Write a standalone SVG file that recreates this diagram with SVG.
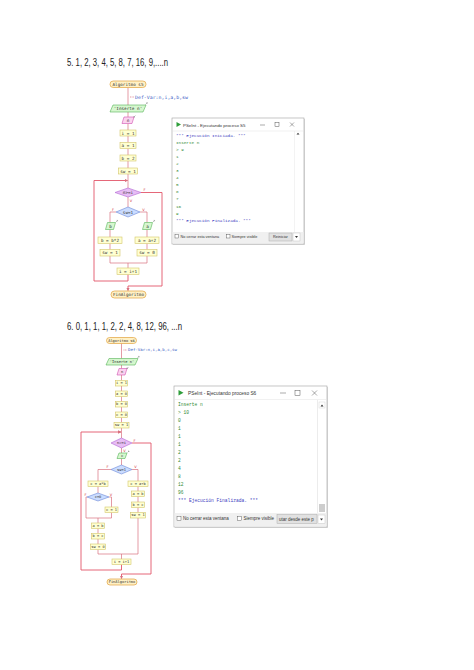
<svg xmlns="http://www.w3.org/2000/svg" width="474" height="670" viewBox="0 0 474 670">
<style>
.hd{font-family:"Liberation Sans","Open Sans",sans-serif;font-size:10px;fill:#222}
.t{font-family:"DejaVu Sans Mono",monospace;font-size:4.3px;fill:#333;text-anchor:middle;dominant-baseline:central}
.t2{font-family:"DejaVu Sans Mono",monospace;font-size:3.7px;fill:#333;text-anchor:middle;dominant-baseline:central}
.note{font-family:"DejaVu Sans Mono",monospace;fill:#3b5cc4}
.box{fill:#ffffd2;stroke:#d3c56a;stroke-width:0.6}
.st{fill:#fff1c6;stroke:#e1a23e;stroke-width:0.7}
.out{fill:#d6f7cf;stroke:#56b458;stroke-width:0.6}
.inp{fill:#fbd2ef;stroke:#d052b0;stroke-width:0.6}
.dw{fill:#e7bdf5;stroke:#b064d2;stroke-width:0.6}
.di{fill:#cadcff;stroke:#6a86d6;stroke-width:0.6}
.ln{fill:none;stroke:#d8707e;stroke-width:0.7}
.lp{fill:none;stroke:#e2566a;stroke-width:0.9}
.lb{font-family:"DejaVu Sans",sans-serif;font-size:3.6px;fill:#d23a3a;text-anchor:middle}
.mk{fill:none;stroke:#666;stroke-width:0.4}
.win{fill:#fff;stroke:#a0a0a0;stroke-width:0.6}
.wt{font-family:"Liberation Sans",sans-serif;fill:#333}
.mono{font-family:"Liberation Mono","DejaVu Sans Mono",monospace}
.g{fill:#2f8a35}
.b{fill:#4040c0}
.bar{fill:#f0f0f0}
.cb{fill:#fff;stroke:#444;stroke-width:0.4}
.btn{fill:#e1e1e1;stroke:#adadad;stroke-width:0.5}
.ctl{fill:none;stroke:#444;stroke-width:0.45}
</style>
<defs>
<marker id="ah" viewBox="0 0 6 6" refX="5" refY="3" markerWidth="4" markerHeight="4" orient="auto"><path d="M0,0L6,3L0,6z" fill="#d8707e"/></marker>
</defs>
<rect width="474" height="670" fill="#fff"/>

<text class="hd" x="67" y="66" textLength="101" lengthAdjust="spacingAndGlyphs">5. 1, 2, 3, 4, 5, 8, 7, 16, 9,....n</text>
<text class="hd" x="67" y="329.5" textLength="115" lengthAdjust="spacingAndGlyphs">6. 0, 1, 1, 1, 2, 2, 4, 8, 12, 96, ...n</text>

<!-- connectors -->
<g id="connectors">
<path class="ln" d="M128,87.5V105M128,112V117M128,123.5V130M128,136V142.5M128,148.5V155M128,161V168M128,174V188M128,197V207"/>
<path class="ln" d="M130,97H134" stroke-dasharray="1,0.6"/>
<path class="ln" d="M116,212H110V222.5M140,212H147V222.5M110,229.5V237M147,229.5V237M110,243.5V249.5M147,243.5V249.5"/>
<path class="ln" d="M110,256V263H147V256M128,263V268"/>
<path class="lp" d="M128,274.5V281H94V180.5H127.5" marker-end="url(#ah)"/>
<path class="lp" d="M141,192.5H162V286H128V290.5" marker-end="url(#ah)"/>
<path class="ln" d="M121.5,343.5V358.5M121.5,365V368.5M121.5,375V380.5M121.5,386V391M121.5,396.5V401.5M121.5,407V412M121.5,417.5V422.5M121.5,428V438M121.5,448V453M121.5,458.5V465"/>
<path class="ln" d="M123.5,350H127" stroke-dasharray="1,0.6"/>
<path class="ln" d="M111,469.5H98V481M132,469.5H138V481M98,486.5V493"/>
<path class="ln" d="M87,497H86V518H111.5V512.5M109,497H111.5V507M98,518V523M98,528.5V533.5M98,539V544M98,549.5V554"/>
<path class="ln" d="M138,486.5V491M138,496.5V502M138,507.5V512.5M138,518V554H98M121.5,554V559"/>
<path class="lp" d="M121.5,564.5V570H81V432H121" marker-end="url(#ah)"/>
<path class="lp" d="M132,443H151V574H121.5V578.5" marker-end="url(#ah)"/>
<text class="lb" x="144.5" y="191">F</text>
<text class="lb" x="131" y="202">V</text>
<text class="lb" x="113" y="210.5">F</text>
<text class="lb" x="143.5" y="210.5">V</text>
<text class="lb" x="134.5" y="441.5">F</text>
<text class="lb" x="124.5" y="452">V</text>
<text class="lb" x="107.5" y="468">F</text>
<text class="lb" x="135.5" y="468">V</text>
<text class="lb" x="85.5" y="495.5">F</text>
<text class="lb" x="111" y="495.5">V</text>
</g>

<!-- flowchart 1 nodes -->
<g id="f1-start"><rect class="st" x="110" y="81" width="36" height="6.5" rx="3.2"/><text class="t" x="128" y="84.3">Algoritmo s5</text></g>
<g id="f1-def"><text class="note" x="135" y="98.5" font-size="4.5" textLength="53" lengthAdjust="spacingAndGlyphs">Def-Var:n,i,a,b,sw</text></g>
<g id="f1-out"><polygon class="out" points="110,112 113,105 146,105 143,112"/><text class="t" x="128" y="108.6">'Inserte n'</text><path class="mk" d="M145.5,104.5l1.8,-1.8m-1,0h1v1"/></g>
<g id="f1-in"><polygon class="inp" points="122,123.5 124,117 134,117 132,123.5"/><text class="t" x="128" y="120.3">n</text><path class="mk" d="M135.5,115.5l-1.6,1.6m0,-1v1h1"/></g>
<g id="f1-i"><rect class="box" x="120" y="130" width="16" height="6"/><text class="t" x="128" y="133.1">i = 1</text></g>
<g id="f1-a"><rect class="box" x="120" y="142.5" width="16" height="6"/><text class="t" x="128" y="145.6">a = 1</text></g>
<g id="f1-b"><rect class="box" x="120" y="155" width="16" height="6"/><text class="t" x="128" y="158.1">b = 2</text></g>
<g id="f1-sw"><rect class="box" x="118.5" y="168" width="19" height="6"/><text class="t" x="128" y="171.1">sw = 1</text></g>
<g id="f1-while"><polygon class="dw" points="128,188 141,192.5 128,197 115,192.5"/><text class="t" x="128" y="192.6">n&gt;=i</text></g>
<g id="f1-if"><polygon class="di" points="128,207 140,212 128,217 116,212"/><text class="t" x="128" y="212.1">sw=1</text></g>
<g id="f1-outb"><polygon class="out" points="105.5,229.5 107.5,222.5 115.5,222.5 113.5,229.5"/><text class="t" x="110.5" y="226.1">b</text><path class="mk" d="M116,222l1.6,-1.6m-1,0h1v1"/></g>
<g id="f1-outa"><polygon class="out" points="142.5,229.5 144.5,222.5 152.5,222.5 150.5,229.5"/><text class="t" x="147.5" y="226.1">a</text><path class="mk" d="M153,222l1.6,-1.6m-1,0h1v1"/></g>
<g id="f1-bb"><rect class="box" x="98" y="237" width="24" height="6.5"/><text class="t" x="110" y="240.3">b = b*2</text></g>
<g id="f1-aa"><rect class="box" x="135" y="237" width="24" height="6.5"/><text class="t" x="147" y="240.3">a = a+2</text></g>
<g id="f1-sw1"><rect class="box" x="100" y="249.5" width="20" height="6.5"/><text class="t" x="110" y="252.8">sw = 1</text></g>
<g id="f1-sw0"><rect class="box" x="137" y="249.5" width="20" height="6.5"/><text class="t" x="147" y="252.8">sw = 0</text></g>
<g id="f1-inc"><rect class="box" x="117" y="268" width="22" height="6.5"/><text class="t" x="128" y="271.3">i = i+1</text></g>
<g id="f1-end"><rect class="st" x="111" y="291" width="35" height="7" rx="3.5"/><text class="t" x="128.5" y="294.6">FinAlgoritmo</text></g>

<!-- flowchart 2 nodes -->
<g id="f2-start"><rect class="st" x="106.5" y="337.5" width="30" height="6" rx="3"/><text class="t2" x="121.5" y="340.6">Algoritmo s6</text></g>
<g id="f2-def"><text class="note" x="128" y="351.3" font-size="3.9" textLength="49" lengthAdjust="spacingAndGlyphs">Def-Var:n,i,a,b,c,sw</text></g>
<g id="f2-out"><polygon class="out" points="106,365 109,358.5 138,358.5 135,365"/><text class="t2" x="122" y="361.8">'Inserte n'</text><path class="mk" d="M137.5,358l1.6,-1.6m-1,0h1v1"/></g>
<g id="f2-in"><polygon class="inp" points="117,375 119,368.5 127,368.5 125,375"/><text class="t2" x="122" y="371.8">n</text><path class="mk" d="M128.5,367l-1.5,1.5m0,-1v1h1"/></g>
<g id="f2-i"><rect class="box" x="115.5" y="380.5" width="12" height="5.5"/><text class="t2" x="121.5" y="383.3">i = 1</text></g>
<g id="f2-a"><rect class="box" x="115.5" y="391" width="12" height="5.5"/><text class="t2" x="121.5" y="393.8">a = 0</text></g>
<g id="f2-b"><rect class="box" x="115.5" y="401.5" width="12" height="5.5"/><text class="t2" x="121.5" y="404.3">b = 0</text></g>
<g id="f2-c"><rect class="box" x="115.5" y="412" width="12" height="5.5"/><text class="t2" x="121.5" y="414.8">c = 0</text></g>
<g id="f2-sw"><rect class="box" x="114" y="422.5" width="15" height="5.5"/><text class="t2" x="121.5" y="425.3">sw = 1</text></g>
<g id="f2-while"><polygon class="dw" points="121.5,438 132,443 121.5,448 111,443"/><text class="t2" x="121.5" y="443.1">n&gt;=i</text></g>
<g id="f2-outc"><polygon class="out" points="117,458.5 119,453 127,453 125,458.5"/><text class="t2" x="122" y="455.8">c</text><path class="mk" d="M127.5,452.5l1.5,-1.5m-1,0h1v1"/></g>
<g id="f2-if"><polygon class="di" points="121.5,465 132,469.5 121.5,474 111,469.5"/><text class="t2" x="121.5" y="469.6">sw=1</text></g>
<g id="f2-cm"><rect class="box" x="88" y="481" width="20" height="5.5"/><text class="t2" x="98" y="483.8">c = a*b</text></g>
<g id="f2-cs"><rect class="box" x="128" y="481" width="20" height="5.5"/><text class="t2" x="138" y="483.8">c = a+b</text></g>
<g id="f2-if2"><polygon class="di" points="98,493 109,497 98,501 87,497"/><text class="t2" x="98" y="497.1">c=0</text></g>
<g id="f2-c1"><rect class="box" x="105" y="507" width="13" height="5.5"/><text class="t2" x="111.5" y="509.8">c = 1</text></g>
<g id="f2-ab1"><rect class="box" x="91.5" y="523" width="13" height="5.5"/><text class="t2" x="98" y="525.8">a = b</text></g>
<g id="f2-bc1"><rect class="box" x="91.5" y="533.5" width="13" height="5.5"/><text class="t2" x="98" y="536.3">b = c</text></g>
<g id="f2-sw0"><rect class="box" x="90.5" y="544" width="15" height="5.5"/><text class="t2" x="98" y="546.8">sw = 0</text></g>
<g id="f2-ab2"><rect class="box" x="131.5" y="491" width="13" height="5.5"/><text class="t2" x="138" y="493.8">a = b</text></g>
<g id="f2-bc2"><rect class="box" x="131.5" y="502" width="13" height="5.5"/><text class="t2" x="138" y="504.8">b = c</text></g>
<g id="f2-sw1"><rect class="box" x="130.5" y="512.5" width="15" height="5.5"/><text class="t2" x="138" y="515.3">sw = 1</text></g>
<g id="f2-inc"><rect class="box" x="112" y="559" width="19" height="5.5"/><text class="t2" x="121.5" y="561.8">i = i+1</text></g>
<g id="f2-end"><rect class="st" x="107" y="579" width="30" height="6" rx="3"/><text class="t2" x="122" y="582.1">FinAlgoritmo</text></g>

<!-- window 1 -->
<g id="win1">
<rect x="173" y="119" width="132" height="126" fill="#ddd"/>
<rect class="win" x="172" y="118" width="132" height="126"/>
<path d="M176.5,122v5l4.5,-2.5z" fill="#2e9e3a"/>
<text class="wt" x="183" y="126.6" font-size="4.4">PSeInt - Ejecutando proceso S5</text>
<path class="ctl" d="M260,125h5"/>
<rect class="ctl" x="275" y="122.5" width="4" height="4"/>
<path class="ctl" d="M290,122.5l4,4m0,-4l-4,4"/>
<path d="M172.5,131H303.5" stroke="#e3e3e3" stroke-width="0.5"/>
<path d="M294.5,131V232" stroke="#e6e6e6" stroke-width="0.5"/>
<path d="M296.5,134.5l1.5,-1.8l1.5,1.8z" fill="#333"/>
<g class="mono" font-size="4.3">
<text class="b" x="176" y="136.5">*** Ejecución Iniciada. ***</text>
<text class="g" x="176" y="143.6">Inserte n</text>
<text class="g" x="176" y="150.7">&gt; 9</text>
<text class="g" x="176" y="157.8">1</text>
<text class="g" x="176" y="164.9">2</text>
<text class="g" x="176" y="172">3</text>
<text class="g" x="176" y="179.1">4</text>
<text class="g" x="176" y="186.2">5</text>
<text class="g" x="176" y="193.3">8</text>
<text class="g" x="176" y="200.4">7</text>
<text class="g" x="176" y="207.5">16</text>
<text class="g" x="176" y="214.6">9</text>
<text class="b" x="176" y="221.7">*** Ejecución Finalizada. ***</text>
</g>
<rect class="bar" x="172.5" y="232" width="131" height="11.5"/>
<rect class="cb" x="175" y="234.5" width="3.5" height="3.5"/>
<text class="wt" x="180.5" y="237.9" font-size="3.8">No cerrar esta ventana</text>
<rect class="cb" x="226.5" y="234.5" width="3.5" height="3.5"/>
<text class="wt" x="231.5" y="237.9" font-size="3.8">Siempre visible</text>
<rect class="btn" x="269" y="233" width="23" height="8"/>
<text class="wt" x="280.5" y="238.4" font-size="3.8" text-anchor="middle">Reiniciar</text>
<rect x="293" y="233" width="7" height="8" fill="#fff" stroke="#bbb" stroke-width="0.4"/>
<path d="M295,236l1.5,2l1.5,-2z" fill="#333"/>
</g>

<!-- window 2 -->
<g id="win2">
<rect x="175" y="387" width="153" height="141" fill="#ddd"/>
<rect class="win" x="174" y="386" width="153" height="141"/>
<path d="M178.5,390v5.5l5,-2.75z" fill="#2e9e3a"/>
<text class="wt" x="188" y="395.2" font-size="4.8">PSeInt - Ejecutando proceso S6</text>
<path class="ctl" d="M280,393h6"/>
<rect class="ctl" x="295" y="390.5" width="5" height="5"/>
<path class="ctl" d="M312,390.5l5,5m0,-5l-5,5"/>
<path d="M174.5,399.5H326.5" stroke="#e3e3e3" stroke-width="0.5"/>
<path d="M317.5,400V513" stroke="#d8d8d8" stroke-width="0.5"/>
<rect x="319" y="402" width="6" height="6" fill="#fff" stroke="#ccc" stroke-width="0.4"/>
<path d="M320.5,406.5l1.5,-2l1.5,2z" fill="#333"/>
<rect x="319" y="504" width="6" height="8" fill="#cdcdcd"/>
<g class="mono" font-size="4.6">
<text class="g" x="178" y="405.7">Inserte n</text>
<text class="g" x="178" y="413.7">&gt; 10</text>
<text class="g" x="178" y="421.7">0</text>
<text class="g" x="178" y="429.7">1</text>
<text class="g" x="178" y="437.7">1</text>
<text class="g" x="178" y="445.7">1</text>
<text class="g" x="178" y="453.7">2</text>
<text class="g" x="178" y="461.7">2</text>
<text class="g" x="178" y="469.7">4</text>
<text class="g" x="178" y="477.7">8</text>
<text class="g" x="178" y="485.7">12</text>
<text class="g" x="178" y="493.7">96</text>
<text class="b" x="178" y="501.7">*** Ejecución Finalizada. ***</text>
</g>
<rect class="bar" x="174.5" y="513" width="152" height="13.5"/>
<rect class="cb" x="177" y="516.5" width="4" height="4"/>
<text class="wt" x="183" y="520.4" font-size="4.5">No cerrar esta ventana</text>
<rect class="cb" x="237.5" y="516.5" width="4" height="4"/>
<text class="wt" x="243.5" y="520.4" font-size="4.5">Siempre visible</text>
<rect class="btn" x="277" y="514.5" width="40" height="9"/>
<text class="wt" x="279" y="520.6" font-size="4.5">utar desde este p</text>
<rect x="318" y="515" width="7" height="8.5" fill="#fff" stroke="#bbb" stroke-width="0.4"/>
<path d="M320,518.5l1.5,2l1.5,-2z" fill="#333"/>
</g>
</svg>
